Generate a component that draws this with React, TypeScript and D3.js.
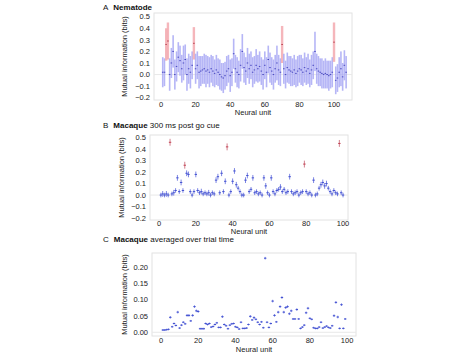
import React from "react";
import * as d3 from "d3";

// ---------- Panel A: Nematode ----------
const nemMid = [
  0.02, 0.02, 0.26, 0.29, 0.0, 0.1, 0.2, 0.0, 0.07, 0.15,
  0.12, 0.05, 0.1, 0.13, 0.0, 0.05, 0.02, 0.08, 0.27, 0.05,
  0.08, 0.02, 0.03, 0.04, 0.05, 0.03, 0.04, 0.02, 0.05, 0.03,
  0.01, 0.04, 0.02, 0.0, -0.02, -0.03, -0.01, 0.03, 0.05, -0.01,
  0.02, 0.18, 0.05, 0.02, 0.0, 0.08, 0.2, 0.06, 0.03, 0.1,
  0.05, 0.08, 0.02, 0.04, 0.08, 0.05, 0.07, 0.03, 0.0, 0.08,
  0.02, 0.13, 0.06, 0.03, 0.0, 0.05, 0.1, 0.04, 0.02, 0.26,
  0.05, 0.0, 0.06, 0.04, 0.03, 0.02, 0.04, 0.01, 0.03, 0.05,
  0.04, 0.02, 0.06, 0.03, 0.05, 0.01, 0.04, 0.08, 0.2, 0.05,
  0.03, 0.02, 0.01, 0.0, 0.01, 0.0, -0.01, 0.0, 0.02, 0.28,
  -0.05, -0.03, 0.02, 0.05, -0.02, 0.08, 0.02,
];
const nemErr = [
  0.13, 0.12, 0.14, 0.16, 0.14, 0.13, 0.14, 0.13, 0.13, 0.13,
  0.13, 0.12, 0.15, 0.13, 0.14, 0.13, 0.14, 0.12, 0.14, 0.13,
  0.12, 0.14, 0.13, 0.12, 0.13, 0.14, 0.12, 0.13, 0.12, 0.13,
  0.12, 0.13, 0.12, 0.13, 0.12, 0.13, 0.12, 0.13, 0.12, 0.14,
  0.12, 0.13, 0.12, 0.13, 0.12, 0.14, 0.15, 0.13, 0.12, 0.13,
  0.13, 0.12, 0.13, 0.12, 0.14, 0.12, 0.13, 0.12, 0.13, 0.12,
  0.13, 0.12, 0.13, 0.12, 0.13, 0.12, 0.15, 0.13, 0.12, 0.16,
  0.13, 0.12, 0.13, 0.12, 0.13, 0.12, 0.13, 0.12, 0.13, 0.12,
  0.13, 0.12, 0.13, 0.12, 0.13, 0.12, 0.13, 0.12, 0.17, 0.13,
  0.13, 0.12, 0.13, 0.12, 0.13, 0.12, 0.13, 0.12, 0.13, 0.17,
  0.12, 0.12, 0.13, 0.15, 0.12, 0.13, 0.14,
];
const nemRed = [3, 4, 19, 70, 100];

// ---------- Panel B: Macaque 300 ms post go cue ----------
const macBMid = [
  0.0, 0.01, 0.0, 0.01, 0.0, 0.46, 0.01, 0.02, 0.04, 0.15,
  0.03, 0.11, 0.04, 0.26, 0.19, 0.18, 0.03, 0.0, 0.03, 0.18,
  0.04, 0.02, 0.03, 0.01, 0.02, 0.01, 0.02, 0.0, 0.02, 0.01,
  0.13, 0.16, 0.02, 0.19, 0.03, 0.12, 0.42, 0.0, 0.03, 0.12,
  0.21, 0.09, 0.06, 0.03, 0.0, 0.0, 0.13, 0.17, 0.03, 0.05,
  0.15, 0.02, 0.03, 0.01, 0.02, 0.0, 0.15, 0.08, 0.02, 0.0,
  0.15, 0.03, 0.01, 0.04, 0.05, 0.07, 0.03, 0.05, 0.02, 0.03,
  0.16, 0.03, 0.01, 0.02, 0.03, 0.0, 0.02, 0.03, 0.27, 0.03,
  0.01, 0.02, 0.0, 0.13, 0.0, 0.01, 0.06, 0.09, 0.11, 0.08,
  0.1, 0.06, 0.03, 0.01, 0.04, 0.02, 0.01, 0.45, 0.02, 0.0,
];
const macBErr = [
  0.02, 0.025, 0.02, 0.025, 0.02, 0.03, 0.02, 0.025, 0.02, 0.025,
  0.02, 0.025, 0.02, 0.03, 0.025, 0.025, 0.02, 0.02, 0.02, 0.025,
  0.02, 0.02, 0.025, 0.02, 0.02, 0.02, 0.025, 0.02, 0.02, 0.02,
  0.025, 0.025, 0.02, 0.025, 0.02, 0.025, 0.03, 0.02, 0.02, 0.025,
  0.025, 0.025, 0.02, 0.02, 0.02, 0.02, 0.025, 0.025, 0.02, 0.02,
  0.025, 0.02, 0.02, 0.02, 0.02, 0.02, 0.025, 0.025, 0.02, 0.02,
  0.025, 0.02, 0.02, 0.02, 0.02, 0.025, 0.02, 0.02, 0.02, 0.02,
  0.025, 0.02, 0.02, 0.02, 0.02, 0.02, 0.02, 0.02, 0.03, 0.02,
  0.02, 0.02, 0.02, 0.025, 0.02, 0.02, 0.02, 0.025, 0.025, 0.025,
  0.025, 0.02, 0.02, 0.02, 0.02, 0.02, 0.02, 0.03, 0.02, 0.02,
];
const macBRed = [6, 14, 37, 79, 98];

// ---------- Panel C: Macaque averaged over trial time ----------
const macCMid = [
  0.007, 0.007, 0.008, 0.009, 0.046, 0.017, 0.027, 0.021, 0.062, 0.013,
  0.022, 0.031, 0.026, 0.052, 0.052, 0.035, 0.052, 0.079, 0.066, 0.064,
  0.011, 0.011, 0.011, 0.027, 0.024, 0.027, 0.016, 0.018, 0.024, 0.029,
  0.015, 0.015, 0.048, 0.024, 0.02, 0.011, 0.022, 0.026, 0.027, 0.017,
  0.015, 0.01, 0.031, 0.012, 0.012, 0.013, 0.024, 0.049, 0.038, 0.045,
  0.04, 0.031, 0.024, 0.032, 0.014, 0.228, 0.031, 0.015, 0.027, 0.096,
  0.052, 0.032, 0.062, 0.079, 0.107, 0.062, 0.076, 0.079, 0.057, 0.066,
  0.041, 0.041, 0.07, 0.041, 0.012, 0.016, 0.022, 0.06, 0.074, 0.043,
  0.04, 0.014, 0.012, 0.012, 0.016, 0.031, 0.013, 0.016, 0.019, 0.015,
  0.013, 0.02, 0.051, 0.092, 0.047, 0.012, 0.085, 0.012, 0.041,
];
const macCErr = [
  0.003, 0.003, 0.003, 0.003, 0.004, 0.003, 0.003, 0.003, 0.004, 0.003,
  0.003, 0.003, 0.003, 0.004, 0.004, 0.003, 0.004, 0.004, 0.004, 0.004,
  0.003, 0.003, 0.003, 0.003, 0.003, 0.003, 0.003, 0.003, 0.003, 0.003,
  0.003, 0.003, 0.004, 0.003, 0.003, 0.003, 0.003, 0.003, 0.003, 0.003,
  0.003, 0.003, 0.003, 0.003, 0.003, 0.003, 0.003, 0.004, 0.003, 0.004,
  0.003, 0.003, 0.003, 0.003, 0.003, 0.004, 0.003, 0.003, 0.003, 0.004,
  0.004, 0.003, 0.004, 0.004, 0.004, 0.004, 0.004, 0.004, 0.004, 0.004,
  0.003, 0.003, 0.004, 0.003, 0.003, 0.003, 0.003, 0.004, 0.004, 0.003,
  0.003, 0.003, 0.003, 0.003, 0.003, 0.003, 0.003, 0.003, 0.003, 0.003,
  0.003, 0.003, 0.004, 0.004, 0.004, 0.003, 0.004, 0.003, 0.003,
];

const xTicks = [0, 20, 40, 60, 80, 100];
const yTicksAB = [-0.2, -0.1, 0.0, 0.1, 0.2, 0.3, 0.4, 0.5];
const yTicksC = [0.0, 0.05, 0.1, 0.15, 0.2];

const FONT = "'Liberation Sans', Arial, Helvetica, sans-serif";

type PanelProps = {
  letter: string;
  bold: string;
  rest: string;
  titleY: number;
  box: { x0: number; x1: number; y0: number; y1: number };
  xDomain: [number, number];
  yDomain: [number, number];
  yTicks: number[];
  yFmt: string;
  mid: number[];
  err: number[];
  red: number[];
  style: "band" | "cross";
  tickLabelY: number;
  axisTitleY: number;
  yTitleX: number;
};

function Panel(p: PanelProps) {
  const x = d3.scaleLinear().domain(p.xDomain).range([p.box.x0, p.box.x1]);
  const y = d3.scaleLinear().domain(p.yDomain).range([p.box.y1, p.box.y0]);
  const fmt = d3.format(p.yFmt);
  const units = p.mid.map((_, i) => i + 1);
  const yMid = (p.box.y0 + p.box.y1) / 2;
  return (
    <g>
      <text x={103} y={p.titleY} fontSize={8} fontFamily={FONT} fill="#111">
        {p.letter}
        <tspan dx={5} fontWeight="bold">{p.bold}</tspan>
        <tspan>{p.rest}</tspan>
      </text>
      <rect
        x={p.box.x0}
        y={p.box.y0}
        width={p.box.x1 - p.box.x0}
        height={p.box.y1 - p.box.y0}
        fill="white"
        stroke="#e2e2e2"
        strokeWidth={1}
      />
      <line
        x1={p.box.x0}
        x2={p.box.x1}
        y1={y(0)}
        y2={y(0)}
        stroke="#e8e8e8"
        strokeWidth={1}
      />
      {p.yTicks.map((t) => (
        <text
          key={"y" + t}
          x={p.box.x0 - 4}
          y={y(t) + 2.7}
          fontSize={7.5}
          fontFamily={FONT}
          textAnchor="end"
          fill="#222"
        >
          {fmt(t)}
        </text>
      ))}
      {xTicks.map((t) => (
        <text
          key={"x" + t}
          x={x(t)}
          y={p.tickLabelY}
          fontSize={7.5}
          fontFamily={FONT}
          textAnchor="middle"
          fill="#222"
        >
          {t}
        </text>
      ))}
      <text
        x={(p.box.x0 + p.box.x1) / 2}
        y={p.axisTitleY}
        fontSize={7.5}
        fontFamily={FONT}
        textAnchor="middle"
        fill="#222"
      >
        Neural unit
      </text>
      <text
        transform={`translate(${p.yTitleX},${yMid}) rotate(-90)`}
        fontSize={7.5}
        fontFamily={FONT}
        textAnchor="middle"
        fill="#222"
      >
        Mutual information (bits)
      </text>
      {units.map((u, i) => {
        const isRed = p.red.includes(u);
        const cx = x(u);
        const top = y(p.mid[i] + p.err[i]);
        const bot = y(p.mid[i] - p.err[i]);
        const cy = y(p.mid[i]);
        if (p.style === "band") {
          const w = isRed ? 2.4 : 1.6;
          return (
            <g key={u}>
              <rect
                x={cx - w / 2}
                y={top}
                width={w}
                height={bot - top}
                fill={isRed ? "#f2a4aa" : "#a4a4f4"}
                fillOpacity={0.8}
              />
              <rect
                x={cx - 0.8}
                y={cy - 0.5}
                width={1.6}
                height={1}
                fill={isRed ? "#b84050" : "#4a4ac0"}
              />
            </g>
          );
        }
        return (
          <g key={u}>
            <line
              x1={cx}
              x2={cx}
              y1={top}
              y2={bot}
              stroke={isRed ? "#c86070" : "#5a66dd"}
              strokeWidth={0.8}
            />
            <line
              x1={cx - 1.2}
              x2={cx + 1.2}
              y1={cy}
              y2={cy}
              stroke={isRed ? "#c04050" : "#4050d0"}
              strokeWidth={1}
            />
          </g>
        );
      })}
    </g>
  );
}

export default function App() {
  return (
    <svg width={474} height={355} style={{ position: "absolute", left: 0, top: 0 }}>
      <rect width={474} height={355} fill="white" />
      <Panel
        letter="A"
        bold="Nematode"
        rest=""
        titleY={10}
        box={{ x0: 154, x1: 352, y0: 13, y1: 100 }}
        xDomain={[-4.05, 110.4]}
        yDomain={[-0.22, 0.532]}
        yTicks={yTicksAB}
        yFmt=".1f"
        mid={nemMid}
        err={nemErr}
        red={nemRed}
        style="band"
        tickLabelY={106.5}
        axisTitleY={114.5}
        yTitleX={127}
      />
      <Panel
        letter="B"
        bold="Macaque"
        rest=" 300 ms post go cue"
        titleY={128}
        box={{ x0: 150, x1: 348, y0: 135, y1: 220 }}
        xDomain={[-4.9, 102.7]}
        yDomain={[-0.2174, 0.5235]}
        yTicks={yTicksAB}
        yFmt=".1f"
        mid={macBMid}
        err={macBErr}
        red={macBRed}
        style="cross"
        tickLabelY={226}
        axisTitleY={234}
        yTitleX={124}
      />
      <Panel
        letter="C"
        bold="Macaque"
        rest=" averaged over trial time"
        titleY={242}
        box={{ x0: 152, x1: 356, y0: 253, y1: 336 }}
        xDomain={[-4.84, 104.8]}
        yDomain={[-0.0114, 0.244]}
        yTicks={yTicksC}
        yFmt=".2f"
        mid={macCMid}
        err={macCErr}
        red={[]}
        style="cross"
        tickLabelY={343}
        axisTitleY={351.5}
        yTitleX={127}
      />
    </svg>
  );
}
